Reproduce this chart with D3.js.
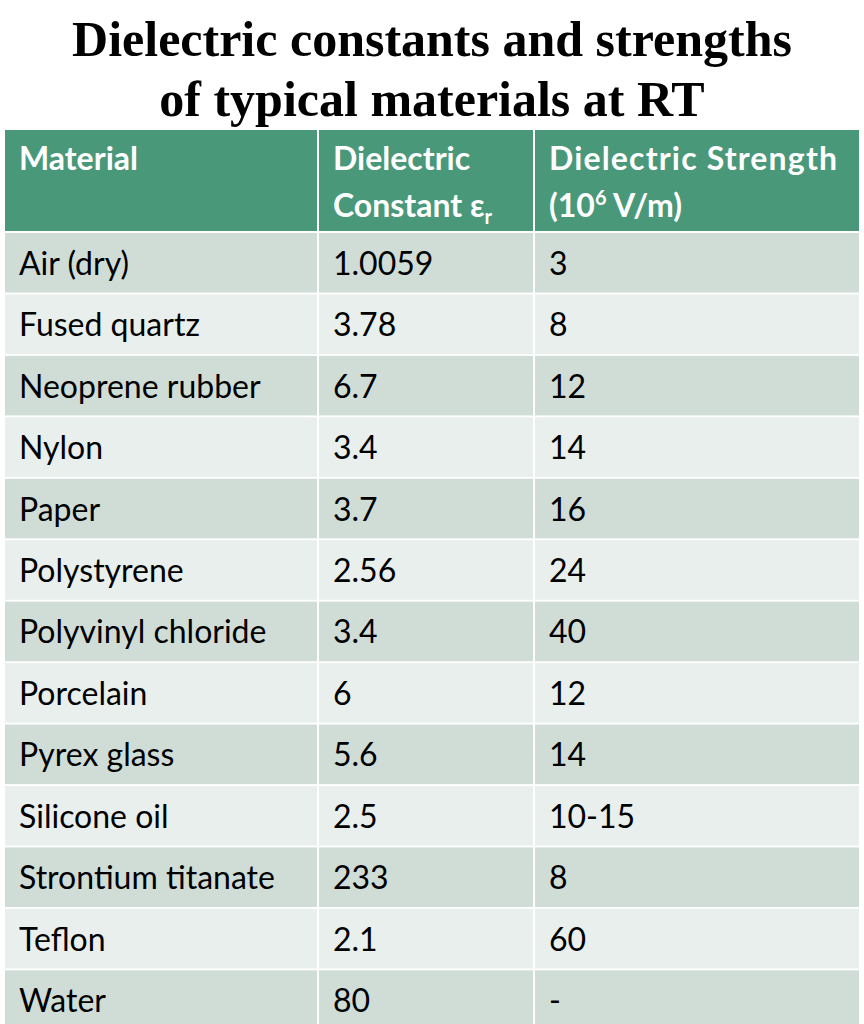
<!DOCTYPE html>
<html><head><meta charset="utf-8">
<script src="https://cdn.jsdelivr.net/npm/d3@7"></script>
<style>body{margin:0;background:#fff}</style></head>
<body><svg id="c" width="864" height="1024"></svg>
<script>
const titleLines = ["Dielectric constants and strengths", "of typical materials at RT"];
const materials = ["Air (dry)","Fused quartz","Neoprene rubber","Nylon","Paper","Polystyrene","Polyvinyl chloride","Porcelain","Pyrex glass","Silicone oil","Strontium titanate","Teflon","Water"];
const constants = ["1.0059","3.78","6.7","3.4","3.7","2.56","3.4","6","5.6","2.5","233","2.1","80"];
const strengths = ["3","8","12","14","16","24","40","12","14","10-15","8","60","-"];
const columns = ["Material","Constant","Strength"];

const svg = d3.select("#c");
const font = "Lato, 'Open Sans', sans-serif";
svg.selectAll("text.title").data(titleLines).join("text")
  .attr("x", 432).attr("y", (d,i)=>56+i*60).attr("text-anchor","middle")
  .attr("font-family","'Liberation Serif', 'Times New Roman', serif").attr("font-weight","bold")
  .attr("font-size",50).attr("fill","#000").text(d=>d);

const x = d3.scaleOrdinal().domain(columns).range([5,319,535]);
const w = d3.scaleOrdinal().domain(columns).range([312,214,324]);
const headTop = 130, headH = 101;
const y = d3.scaleBand().domain(materials).range([headTop+headH+2, headTop+headH+2+61.3*13]).paddingInner(0.03);

svg.selectAll("rect.h").data(columns).join("rect")
  .attr("x",d=>x(d)).attr("y",headTop).attr("width",d=>w(d)).attr("height",headH).attr("fill","#4a987a");
const ht = svg.append("g").attr("font-family",font).attr("font-weight","bold").attr("font-size",32).attr("fill","#fff")
  .attr("textLength",null);
ht.append("text").attr("x",x("Material")+14).attr("y",170).text("Material");
ht.append("text").attr("x",x("Constant")+14).attr("y",170).text("Dielectric");
const c2 = ht.append("text").attr("x",x("Constant")+14).attr("y",217).text("Constant ε");
c2.append("tspan").attr("font-size",20).attr("dy",7).text("r");
ht.append("text").attr("x",x("Strength")+14).attr("y",170).attr("textLength",288).text("Dielectric Strength");
const s2 = ht.append("text").attr("x",x("Strength")+14).attr("y",217).text("(10");
s2.append("tspan").attr("font-size",20).attr("dy",-12).text("6");
s2.append("tspan").attr("dy",12).text(" V/m)");

const rows = materials.map((m,i)=>({m, vals:[m, constants[i], strengths[i]], i}));
const g = svg.selectAll("g.row").data(rows).join("g").attr("class","row")
  .attr("transform",d=>`translate(0,${y(d.m)})`);
g.selectAll("rect").data(d=>columns.map((c,j)=>({c,i:d.i}))).join("rect")
  .attr("x",d=>x(d.c)).attr("y",0).attr("width",d=>w(d.c)).attr("height",y.bandwidth())
  .attr("fill",d=>d.i%2===0?"#d0ddd7":"#e8efec");
g.selectAll("text").data(d=>d.vals.map((v,j)=>({v,c:columns[j]}))).join("text")
  .attr("x",d=>x(d.c)+14).attr("y",y.bandwidth()/2+12)
  .attr("font-family",font).attr("font-size",32).attr("fill","#000").text(d=>d.v);
</script></body></html>
